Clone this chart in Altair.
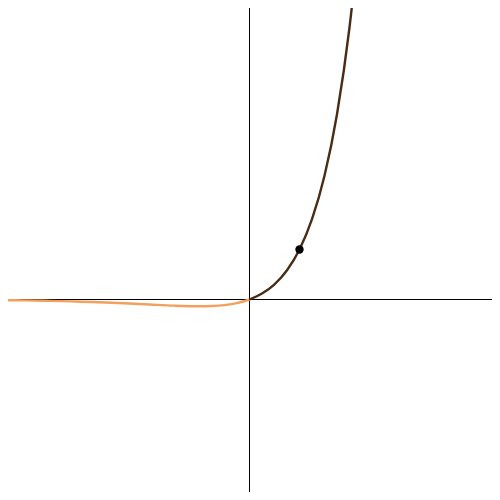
import altair as alt
import pandas as pd

# values
neg_x = [-5.0, -4.5, -4.0, -3.5, -3.0, -2.5, -2.0, -1.5, -1.0, -0.75, -0.5, -0.25, 0.0]
neg_y = [-0.034, -0.05, -0.073, -0.106, -0.149, -0.205, -0.271, -0.335, -0.368, -0.354, -0.303, -0.195, 0.0]
pos_x = [0.0, 0.25, 0.5, 0.75, 1.0, 1.25, 1.5, 1.75, 2.0, 2.25]
pos_y = [0.0, 0.321, 0.824, 1.588, 2.718, 4.363, 6.723, 10.07, 14.78, 21.34]
pt_x = [1.0]
pt_y = [2.718]

W, H = 484, 484
xdom = [-4.83, 4.85]
ydom = [-10.46, 15.84]

xs = alt.Scale(domain=xdom, nice=False, zero=False)
ys = alt.Scale(domain=ydom, nice=False, zero=False)

neg = pd.DataFrame({"x": neg_x, "y": neg_y})
pos = pd.DataFrame({"x": pos_x, "y": pos_y})
pt = pd.DataFrame({"x": pt_x, "y": pt_y})
zero = pd.DataFrame({"v": [0.0]})

vaxis = alt.Chart(zero).mark_rule(color="black", strokeWidth=1).encode(
    x=alt.X("v:Q", scale=xs, axis=None)
)
haxis = alt.Chart(zero).mark_rule(color="black", strokeWidth=1).encode(
    y=alt.Y("v:Q", scale=ys, axis=None)
)
line_neg = alt.Chart(neg).mark_line(color="#f4a05c", strokeWidth=2.4, interpolate="monotone", clip=True).encode(
    x=alt.X("x:Q", scale=xs, axis=None), y=alt.Y("y:Q", scale=ys, axis=None)
)
line_pos = alt.Chart(pos).mark_line(color="#4a2c14", strokeWidth=2.4, interpolate="monotone", clip=True).encode(
    x=alt.X("x:Q", scale=xs, axis=None), y=alt.Y("y:Q", scale=ys, axis=None)
)
dot = alt.Chart(pt).mark_circle(color="black", size=70, opacity=1).encode(
    x=alt.X("x:Q", scale=xs, axis=None), y=alt.Y("y:Q", scale=ys, axis=None)
)

chart = alt.layer(vaxis, haxis, line_neg, line_pos, dot).properties(
    width=W, height=H, padding=0, autosize=alt.AutoSizeParams(type="none")
).configure_view(stroke=None)

chart.save("out.html", embed_options={"renderer": "svg", "actions": False})
